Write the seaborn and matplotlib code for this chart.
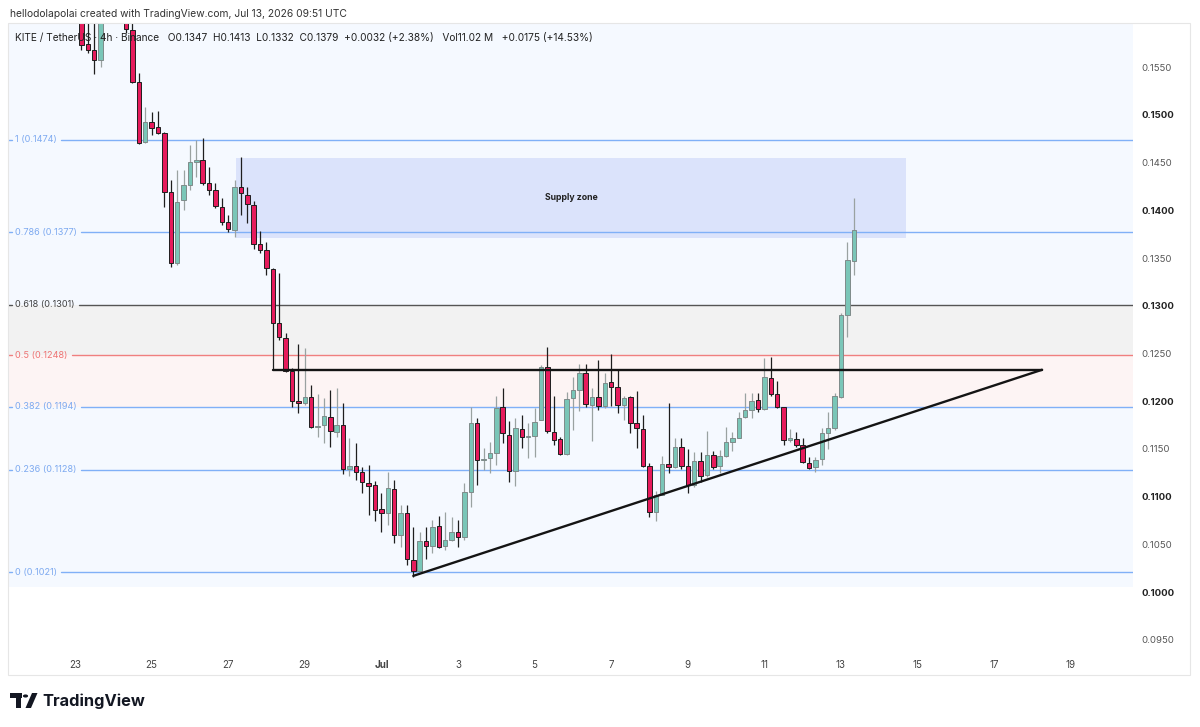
import numpy as np
import pandas as pd
import matplotlib
matplotlib.use('Agg')
import matplotlib.pyplot as plt
import matplotlib.dates as mdates
from matplotlib import transforms
from matplotlib.patches import Rectangle, Polygon, Circle
import seaborn as sns

# ---- KITE/USDT 4h candles, first bar 2026-06-23 04:00 ----
opens = [0.1605, 0.1574, 0.1568, 0.1558, 0.1610, 0.1628, 0.1622, 0.1606, 0.1589, 0.1535,
         0.1472, 0.1493, 0.1487, 0.1481, 0.1419, 0.1345, 0.1411, 0.1427, 0.1451, 0.1453,
         0.1429, 0.1421, 0.1404, 0.1388, 0.1379, 0.1425, 0.1416, 0.1406, 0.1365, 0.1359,
         0.1339, 0.1282, 0.1266, 0.1232, 0.1200, 0.1198, 0.1204, 0.1173, 0.1175, 0.1183,
         0.1168, 0.1175, 0.1129, 0.1132, 0.1126, 0.1114, 0.1112, 0.1087, 0.1083, 0.1108,
         0.1060, 0.1083, 0.1034, 0.1022, 0.1054, 0.1048, 0.1069, 0.1048, 0.1055, 0.1063,
         0.1058, 0.1105, 0.1177, 0.1138, 0.1141, 0.1146, 0.1194, 0.1165, 0.1127, 0.1171,
         0.1163, 0.1164, 0.1180, 0.1236, 0.1168, 0.1160, 0.1145, 0.1203, 0.1212, 0.1230,
         0.1196, 0.1204, 0.1195, 0.1220, 0.1215, 0.1196, 0.1204, 0.1177, 0.1171, 0.1132,
         0.1084, 0.1102, 0.1134, 0.1131, 0.1152, 0.1132, 0.1112, 0.1137, 0.1123, 0.1144,
         0.1132, 0.1143, 0.1157, 0.1162, 0.1183, 0.1191, 0.1201, 0.1192, 0.1224, 0.1208,
         0.1194, 0.1159, 0.1160, 0.1154, 0.1135, 0.1131, 0.1139, 0.1167, 0.1172, 0.1204,
         0.1290, 0.1347]
highs = [0.1615, 0.1600, 0.1598, 0.1618, 0.1635, 0.1650, 0.1632, 0.1615, 0.1596, 0.1544,
         0.1508, 0.1503, 0.1504, 0.1482, 0.1432, 0.1442, 0.1442, 0.1469, 0.1474, 0.1476,
         0.1446, 0.1429, 0.1413, 0.1395, 0.1432, 0.1456, 0.1425, 0.1410, 0.1378, 0.1367,
         0.1340, 0.1334, 0.1272, 0.1235, 0.1260, 0.1256, 0.1217, 0.1208, 0.1203, 0.1212,
         0.1214, 0.1198, 0.1162, 0.1156, 0.1131, 0.1133, 0.1116, 0.1104, 0.1126, 0.1117,
         0.1091, 0.1091, 0.1068, 0.1063, 0.1068, 0.1076, 0.1080, 0.1084, 0.1079, 0.1076,
         0.1114, 0.1194, 0.1182, 0.1151, 0.1157, 0.1206, 0.1214, 0.1179, 0.1182, 0.1186,
         0.1177, 0.1193, 0.1238, 0.1257, 0.1206, 0.1163, 0.1210, 0.1225, 0.1239, 0.1239,
         0.1214, 0.1243, 0.1230, 0.1250, 0.1234, 0.1206, 0.1206, 0.1211, 0.1186, 0.1135,
         0.1106, 0.1143, 0.1198, 0.1162, 0.1162, 0.1150, 0.1147, 0.1147, 0.1169, 0.1148,
         0.1149, 0.1173, 0.1168, 0.1189, 0.1209, 0.1209, 0.1209, 0.1245, 0.1246, 0.1221,
         0.1194, 0.1171, 0.1168, 0.1161, 0.1142, 0.1142, 0.1172, 0.1189, 0.1209, 0.1292,
         0.1367, 0.1413]
lows = [0.1568, 0.1565, 0.1543, 0.1550, 0.1602, 0.1615, 0.1600, 0.1586, 0.1534, 0.1470,
        0.1471, 0.1479, 0.1480, 0.1404, 0.1341, 0.1343, 0.1400, 0.1421, 0.1435, 0.1427,
        0.1416, 0.1402, 0.1385, 0.1377, 0.1372, 0.1395, 0.1387, 0.1360, 0.1355, 0.1332,
        0.1233, 0.1264, 0.1231, 0.1194, 0.1188, 0.1196, 0.1172, 0.1163, 0.1156, 0.1152,
        0.1163, 0.1124, 0.1122, 0.1117, 0.1104, 0.1081, 0.1074, 0.1063, 0.1070, 0.1051,
        0.1047, 0.1028, 0.1016, 0.1022, 0.1035, 0.1041, 0.1046, 0.1044, 0.1054, 0.1047,
        0.1055, 0.1089, 0.1112, 0.1128, 0.1125, 0.1133, 0.1156, 0.1115, 0.1111, 0.1151,
        0.1140, 0.1142, 0.1180, 0.1167, 0.1154, 0.1144, 0.1144, 0.1170, 0.1190, 0.1194,
        0.1158, 0.1191, 0.1193, 0.1195, 0.1188, 0.1180, 0.1167, 0.1151, 0.1131, 0.1079,
        0.1074, 0.1102, 0.1125, 0.1130, 0.1129, 0.1104, 0.1110, 0.1115, 0.1121, 0.1129,
        0.1125, 0.1142, 0.1148, 0.1161, 0.1182, 0.1182, 0.1189, 0.1191, 0.1205, 0.1193,
        0.1154, 0.1157, 0.1152, 0.1135, 0.1129, 0.1126, 0.1133, 0.1150, 0.1170, 0.1203,
        0.1267, 0.1332]
closes = [0.1573, 0.1568, 0.1558, 0.1610, 0.1628, 0.1622, 0.1606, 0.1590, 0.1535, 0.1471,
          0.1493, 0.1486, 0.1481, 0.1419, 0.1345, 0.1409, 0.1427, 0.1451, 0.1453, 0.1429,
          0.1421, 0.1405, 0.1388, 0.1380, 0.1425, 0.1418, 0.1407, 0.1365, 0.1359, 0.1340,
          0.1282, 0.1267, 0.1232, 0.1200, 0.1198, 0.1204, 0.1173, 0.1174, 0.1185, 0.1169,
          0.1175, 0.1129, 0.1132, 0.1126, 0.1115, 0.1111, 0.1086, 0.1083, 0.1109, 0.1060,
          0.1083, 0.1035, 0.1022, 0.1054, 0.1048, 0.1068, 0.1047, 0.1055, 0.1063, 0.1058,
          0.1105, 0.1177, 0.1138, 0.1139, 0.1146, 0.1193, 0.1167, 0.1127, 0.1172, 0.1163,
          0.1164, 0.1178, 0.1236, 0.1169, 0.1159, 0.1145, 0.1202, 0.1212, 0.1230, 0.1197,
          0.1204, 0.1195, 0.1219, 0.1215, 0.1196, 0.1203, 0.1177, 0.1172, 0.1132, 0.1084,
          0.1102, 0.1134, 0.1131, 0.1152, 0.1132, 0.1112, 0.1137, 0.1122, 0.1144, 0.1131,
          0.1143, 0.1157, 0.1161, 0.1182, 0.1191, 0.1200, 0.1192, 0.1225, 0.1208, 0.1194,
          0.1159, 0.1161, 0.1154, 0.1136, 0.1130, 0.1138, 0.1167, 0.1172, 0.1205, 0.1290,
          0.1348, 0.1379]

# fib retracement levels (ratio label, price)
fib_ratios = ['1', '0.786', '0.618', '0.5', '0.382', '0.236', '0']
fib_prices = [0.1474, 0.1377, 0.1301, 0.1248, 0.1194, 0.1128, 0.1021]

# drawings
zone_start, zone_end = '2026-06-27 05:00', '2026-07-14 17:00'
zone_low, zone_high = 0.1371, 0.1455
resistance = 0.1233
resistance_start = '2026-06-28 04:00'
trend_low_time, trend_low = '2026-07-01 20:00', 0.1017
apex_time = '2026-07-18 06:00'

date_ticks = pd.date_range('2026-06-23', '2026-07-19', freq='2D')
price_ticks = [0.0950, 0.1000, 0.1050, 0.1100, 0.1150, 0.1200, 0.1250,
               0.1300, 0.1350, 0.1400, 0.1450, 0.1500, 0.1550]

sns.set_theme(style='white')
plt.rcParams['font.family'] = ['Inter', 'DejaVu Sans']

W, H = 1200, 727
fig = plt.figure(figsize=(W / 100, H / 100), dpi=100)
fig.patch.set_facecolor('white')


def px(x, y):
    return x / W, 1 - y / H


ax = fig.add_axes([8 / W, 1 - 650 / H, 1125 / W, 627 / H])
ax.set_facecolor('white')
for s in ax.spines.values():
    s.set_visible(False)

base = mdates.date2num(pd.Timestamp('2026-06-23'))
ax.set_xlim(base - 1.749, base + 27.624)
ax.set_ylim(0.09393, 0.15964)

# fib background bands
ax.axhspan(0.1005, 0.17, color='#f5f9ff', zorder=0, lw=0)
ax.axhspan(fib_prices[3], fib_prices[2], color='#f2f2f2', zorder=0.1, lw=0)
ax.axhspan(fib_prices[4], fib_prices[3], color='#fdf4f4', zorder=0.1, lw=0)

# supply zone
zx0 = mdates.date2num(pd.Timestamp(zone_start))
zx1 = mdates.date2num(pd.Timestamp(zone_end))
ax.add_patch(Rectangle((zx0, zone_low), zx1 - zx0, zone_high - zone_low,
                       facecolor='#dbe3fb', edgecolor='none', zorder=0.5))
ax.text((zx0 + zx1) / 2, (zone_low + zone_high) / 2, 'Supply zone',
        ha='center', va='center', fontsize=6.3, fontweight='bold', color='#222', zorder=1)

# fib lines with labels
blend = transforms.blended_transform_factory(ax.transAxes, ax.transData)
fib_colors = ['#80b0f7', '#80b0f7', '#555555', '#f07f7f', '#80b0f7', '#80b0f7', '#80b0f7']
fib_text_colors = ['#7eaaf0', '#7eaaf0', '#444444', '#ee7474', '#7eaaf0', '#7eaaf0', '#7eaaf0']
labels = []
for r, p, c, tc in zip(fib_ratios, fib_prices, fib_colors, fib_text_colors):
    t = ax.text(0.0065, p, f'{r} ({p:.4f})', transform=blend, ha='left', va='center',
                fontsize=6.6, color=tc, zorder=3)
    labels.append((t, p, c))
    ax.plot([0, 0.0035], [p, p], transform=blend, color=c, lw=1, zorder=1)

fig.canvas.draw()
renderer = fig.canvas.get_renderer()
for t, p, c in labels:
    bb = t.get_window_extent(renderer)
    xa = ax.transAxes.inverted().transform((bb.x1 + 4, bb.y0))[0]
    ax.plot([xa, 1], [p, p], transform=blend, color=c, lw=1, zorder=1)

# candles
times = pd.date_range('2026-06-23 04:00', periods=len(opens), freq='4h')
xs = mdates.date2num(times.values)
o = np.array(opens); c = np.array(closes)
hi = np.array(highs); lo = np.array(lows)
up = c >= o
bw = 0.7 * 4 / 24
body_lo = np.minimum(o, c)
body_h = np.maximum(np.abs(c - o), 0.00004)

ax.vlines(xs[up], lo[up], hi[up], color='#9aa2a1', lw=0.9, zorder=2)
ax.vlines(xs[~up], lo[~up], hi[~up], color='#1e1e1e', lw=0.9, zorder=2)
ax.bar(xs[up], body_h[up], bottom=body_lo[up], width=bw, color='#7ac6b8',
       edgecolor='#7f8b8a', linewidth=0.7, zorder=2.5)
ax.bar(xs[~up], body_h[~up], bottom=body_lo[~up], width=bw, color='#e61b5c',
       edgecolor='#1e1e1e', linewidth=0.7, zorder=2.5)

# triangle drawing
apex_x = mdates.date2num(pd.Timestamp(apex_time))
res_x = mdates.date2num(pd.Timestamp(resistance_start))
low_x = mdates.date2num(pd.Timestamp(trend_low_time))
sns.lineplot(x=[res_x, apex_x], y=[resistance, resistance], ax=ax, color='#141414', lw=1.7, zorder=4)
sns.lineplot(x=[low_x, apex_x], y=[trend_low, resistance], ax=ax, color='#141414', lw=1.7, zorder=4)
ax.set_xlabel('')
ax.set_ylabel('')

# axes ticks
ax.set_xticks(mdates.date2num(date_ticks.values))
ax.set_xticklabels(['Jul' if d.day == 1 else str(d.day) for d in date_ticks])
for lbl in ax.get_xticklabels():
    if lbl.get_text() == 'Jul':
        lbl.set_fontweight('bold')
ax.tick_params(axis='x', length=0, pad=7.5, labelsize=7.0, labelcolor='#444')

ax.yaxis.tick_right()
ax.set_yticks(price_ticks)
ax.set_yticklabels([f'{v:.4f}' for v in price_ticks])
for v, lbl in zip(price_ticks, ax.get_yticklabels()):
    if round(v * 1000) % 10 == 0:
        lbl.set_fontweight('bold')
        lbl.set_color('#222')
    else:
        lbl.set_color('#555')
ax.tick_params(axis='y', length=0, pad=6, labelsize=6.9)
ax.grid(False)

# chart frame
x0, y0 = px(8, 675)
x1, y1 = px(1190, 23)
fig.patches.append(Rectangle((x0, y0), x1 - x0, y1 - y0, transform=fig.transFigure,
                             facecolor='none', edgecolor='#e6e6e6', lw=0.8))

# header texts
fig.text(*px(10, 14), 'hellodolapolai created with TradingView.com, Jul 13, 2026 09:51 UTC',
         fontsize=7.4, color='#333', va='center', ha='left')
fig.text(*px(15, 38),
         'KITE / TetherUS · 4h · Binance   O0.1347  H0.1413  L0.1332  C0.1379  '
         '+0.0032 (+2.38%)   Vol11.02 M   +0.0175 (+14.53%)',
         fontsize=7.3, color='#222', va='center', ha='left')

# TradingView logo
fig.patches.append(Rectangle(px(10, 698), 12 / W, 5 / H, transform=fig.transFigure,
                             facecolor='#131722', edgecolor='none'))
fig.patches.append(Rectangle(px(15.5, 708), 5.5 / W, 15 / H, transform=fig.transFigure,
                             facecolor='#131722', edgecolor='none'))
fig.patches.append(Circle(px(25.5, 696), 2.6 / W, transform=fig.transFigure,
                          facecolor='#131722', edgecolor='none'))
fig.patches.append(Polygon([px(25.5, 708), px(31, 708), px(37.5, 693), px(32, 693)],
                           closed=True, transform=fig.transFigure,
                           facecolor='#131722', edgecolor='none'))
fig.text(*px(42, 701), 'TradingView', fontsize=11.8, fontweight='bold',
         color='#131722', va='center', ha='left')

fig.savefig('out.png', dpi=100)
